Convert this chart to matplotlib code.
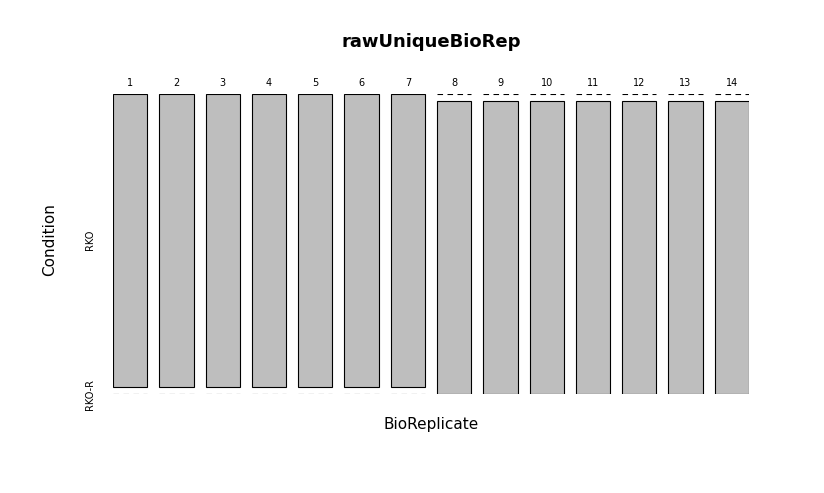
import matplotlib
matplotlib.use("Agg")
import matplotlib.pyplot as plt
from matplotlib.patches import Rectangle

bioreps = [str(i) for i in range(1, 15)]
conditions = ["RKO", "RKO-R"]
counts_rko = [1]*7 + [0]*7
counts_rkor = [0]*7 + [1]*7

W, H = 824, 493
fig = plt.figure(figsize=(W/100, H/100), dpi=100)
L, R, T, B = 113, 749, 94, 394
ax = fig.add_axes([L/W, 1-B/H, (R-L)/W, (B-T)/H])
ax.set_xlim(0, R-L); ax.set_ylim(0, B-T); ax.axis("off")

n = len(bioreps)
gapx = 12.0
bw = ((R-L) - gapx*(n-1))/n
gapy = 7.0
avail = (B-T) - gapy
for i in range(n):
    x0 = i*(bw+gapx)
    tot = counts_rko[i] + counts_rkor[i]
    h_top = avail*counts_rko[i]/tot
    h_bot = avail*counts_rkor[i]/tot
    # bottom row RKO-R
    if h_bot > 0:
        ax.add_patch(Rectangle((x0, 0), bw, h_bot, fc="#bebebe", ec="black", lw=0.8))
    else:
        ax.plot([x0, x0+bw], [0, 0], ls=(0, (5, 4)), color="black", lw=0.8)
    ytop0 = h_bot + gapy
    if h_top > 0:
        ax.add_patch(Rectangle((x0, ytop0), bw, h_top, fc="#bebebe", ec="black", lw=0.8))
    else:
        ax.plot([x0, x0+bw], [B-T, B-T], ls=(0, (5, 4)), color="black", lw=0.8)
    fig.text((L+x0+bw/2)/W, 1-83/H, bioreps[i], ha="center", va="center", fontsize=7)

fig.text(90/W, 1-240/H, conditions[0], rotation=90, ha="center", va="center", fontsize=7)
fig.text(90/W, 1-394/H, conditions[1], rotation=90, ha="center", va="center", fontsize=7)
fig.text(50/W, 1-240/H, "Condition", rotation=90, ha="center", va="center", fontsize=11)
fig.text(431/W, 1-425/H, "BioReplicate", ha="center", va="center", fontsize=11)
fig.text(431/W, 1-42/H, "rawUniqueBioRep", ha="center", va="center", fontsize=13, fontweight="bold")
fig.savefig("out.png", dpi=100)
